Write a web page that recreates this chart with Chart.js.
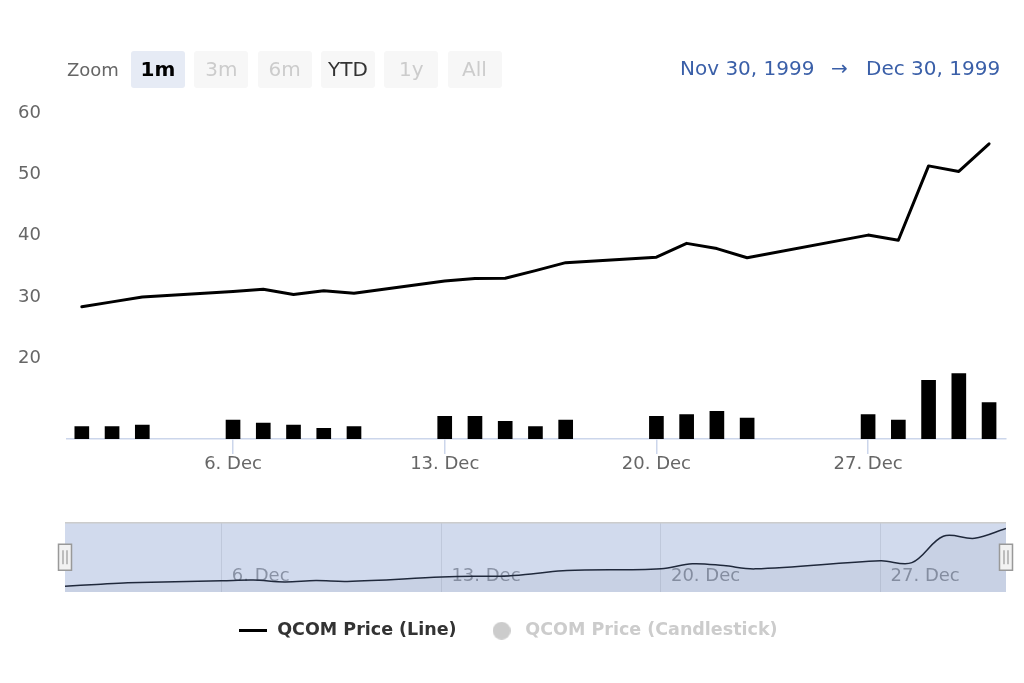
<!DOCTYPE html>
<html><head><meta charset="utf-8">
<script src="https://cdn.jsdelivr.net/npm/chart.js@4/dist/chart.umd.min.js"></script>
<style>
html,body{margin:0;padding:0;background:#fff;overflow:hidden;width:1024px;height:683px;font-family:'DejaVu Sans',sans-serif;}
#main{position:absolute;left:0;top:0;}
#nav{position:absolute;left:0;top:500px;}
.rs{position:absolute;top:51px;height:37px;line-height:37px;}
.lbl{left:67px;color:#666;font-size:18px;}
.btn{width:54px;text-align:center;border-radius:3px;background:#f7f7f7;color:#cccccc;font-size:20px;}
.btn.sel{background:#e6ebf5;color:#000;font-weight:bold;}
.btn.on{color:#333;}
.dt{position:absolute;top:56px;font-size:20px;line-height:24px;color:#3a5fa8;white-space:nowrap;}
</style></head>
<body>
<canvas id="main" width="1024" height="480"></canvas>
<canvas id="nav" width="1024" height="183"></canvas>
<script>
// ---- data ----
const dates = ['1999-12-01','1999-12-02','1999-12-03','1999-12-06','1999-12-07','1999-12-08','1999-12-09','1999-12-10',
  '1999-12-13','1999-12-14','1999-12-15','1999-12-16','1999-12-17','1999-12-20','1999-12-21','1999-12-22','1999-12-23',
  '1999-12-27','1999-12-28','1999-12-29','1999-12-30','1999-12-31'];
const price = [28.4, 29.2, 30.0, 30.9, 31.25, 30.4, 31.0, 30.6, 32.6, 33.0, 33.05, 34.3, 35.6, 36.5, 38.75, 37.9, 36.4,
  40.1, 39.25, 51.4, 50.5, 55.0];
const volume = [7.4, 7.4, 8.4, 11.4, 9.6, 8.4, 6.4, 7.4, 13.6, 13.6, 10.6, 7.4, 11.4, 13.6, 14.6, 16.6, 12.6,
  14.6, 11.4, 35.2, 39.2, 21.8];
const xTickDays = [6, 13, 20, 27];
const xTickLabels = ['6. Dec', '13. Dec', '20. Dec', '27. Dec'];
const priceTicks = [20, 30, 40, 50, 60];
const seriesNames = ['QCOM Price (Line)', 'QCOM Price (Candlestick)'];
const rangeButtons = ['1m', '3m', '6m', 'YTD', '1y', 'All'];
const rangeSelected = '1m';
const rangeEnabled = ['1m', 'YTD'];
const rangeFrom = 'Nov 30, 1999';
const rangeTo = 'Dec 30, 1999';

// ---- range selector (HTML) ----
(function(){
  const z = document.createElement('div'); z.className = 'rs lbl'; z.textContent = 'Zoom'; document.body.appendChild(z);
  rangeButtons.forEach((t, i) => {
    const b = document.createElement('div');
    b.className = 'rs btn' + (t === rangeSelected ? ' sel' : (rangeEnabled.includes(t) ? ' on' : ''));
    b.style.left = (131 + i * 63.3) + 'px';
    b.textContent = t; document.body.appendChild(b);
  });
  const a = document.createElement('div'); a.className = 'dt'; a.style.left = '680px'; a.textContent = rangeFrom; document.body.appendChild(a);
  const ar = document.createElement('div'); ar.className = 'dt'; ar.style.left = '831px'; ar.textContent = '\u2192'; document.body.appendChild(ar);
  const b2 = document.createElement('div'); b2.className = 'dt'; b2.style.left = '866px'; b2.textContent = rangeTo; document.body.appendChild(b2);
})();

Chart.defaults.font.family = "'DejaVu Sans', sans-serif";
const days = dates.map(d => parseInt(d.slice(8, 10), 10));
const linePts = days.map((d, i) => ({x: d, y: price[i]}));
const volPts = days.map((d, i) => ({x: d, y: volume[i]}));
const tickLabel = v => { const k = xTickDays.indexOf(v); return k >= 0 ? xTickLabels[k] : ''; };

new Chart(document.getElementById('main'), {
  data: {datasets: [
    {type: 'line', label: seriesNames[0], data: linePts, yAxisID: 'y', borderColor: '#000', borderWidth: 3,
     pointRadius: 0, tension: 0, fill: false, borderJoinStyle: 'round', borderCapStyle: 'round'},
    {type: 'bar', label: 'Volume', data: volPts, yAxisID: 'yv', backgroundColor: '#000', barThickness: 14}
  ]},
  options: {
    responsive: false, animation: false, devicePixelRatio: 1,
    layout: {padding: {top: 97.6, left: 18, right: 18, bottom: 0}},
    plugins: {legend: {display: false}, tooltip: {enabled: false}},
    scales: {
      x: {type: 'linear', min: 0.5, max: 31.56, position: 'bottom', offset: false,
        afterBuildTicks: s => { s.ticks = xTickDays.map(v => ({value: v})); },
        afterFit: s => { s.height = 41; },
        ticks: {callback: tickLabel, color: '#666', font: {size: 18}, padding: 0, maxRotation: 0, autoSkip: false},
        grid: {offset: false, drawOnChartArea: false, drawTicks: true, tickLength: 15, color: '#ccd6eb', tickColor: '#ccd6eb', lineWidth: 1.5},
        border: {display: true, color: '#ccd6eb', width: 1.5}},
      y: {type: 'linear', position: 'left', min: 6.81, max: 62.55,
        afterBuildTicks: s => { s.ticks = priceTicks.map(v => ({value: v})); },
        afterFit: s => { s.width = 48.7; },
        ticks: {color: '#666', font: {size: 18}, crossAlign: 'far', padding: 0},
        grid: {display: false}, border: {display: false}},
      yv: {type: 'linear', display: false, min: 0, max: 204.8}
    }
  }
});

// ---- navigator ----
const mkLine = () => { const c = document.createElement('canvas'); c.width = 28; c.height = 3; const g = c.getContext('2d'); g.fillStyle = '#000'; g.fillRect(0, 0, 28, 3); return c; };
const mkDot = () => { const c = document.createElement('canvas'); c.width = 18; c.height = 18; const g = c.getContext('2d'); g.fillStyle = '#cccccc'; g.beginPath(); g.arc(9, 9, 9, 0, Math.PI * 2); g.fill(); return c; };
const navDecor = {
  id: 'navDecor',
  afterDatasetsDraw(chart) {
    const {ctx, chartArea: a} = chart;
    ctx.save();
    ctx.fillStyle = 'rgba(102,133,194,0.3)';
    ctx.fillRect(a.left, a.top, a.right - a.left, a.bottom - a.top);
    ctx.strokeStyle = '#cccccc'; ctx.lineWidth = 1.5;
    ctx.beginPath(); ctx.moveTo(a.left, a.top); ctx.lineTo(a.right, a.top); ctx.stroke();
    const cy = (a.top + a.bottom) / 2;
    [a.left, a.right].forEach(x => {
      ctx.fillStyle = '#f2f2f2'; ctx.strokeStyle = '#999999'; ctx.lineWidth = 1.5;
      ctx.beginPath(); ctx.rect(x - 6.5, cy - 13, 13, 26); ctx.fill(); ctx.stroke();
      ctx.lineWidth = 1.2;
      ctx.beginPath(); ctx.moveTo(x - 2, cy - 7); ctx.lineTo(x - 2, cy + 7); ctx.moveTo(x + 2, cy - 7); ctx.lineTo(x + 2, cy + 7); ctx.stroke();
    });
    ctx.restore();
  }
};
const pMin = Math.min(...price), pMax = Math.max(...price), pPad = (pMax - pMin) * 0.1;
new Chart(document.getElementById('nav'), {
  type: 'line',
  data: {datasets: [{label: seriesNames[0], data: linePts, borderColor: '#000', borderWidth: 1.5, pointRadius: 0,
    tension: 0.35, fill: 'start', backgroundColor: 'rgba(0,0,0,0.05)'}]},
  options: {
    responsive: false, animation: false, devicePixelRatio: 1,
    layout: {padding: {top: 22.7, left: 10, right: 18, bottom: 33.5}},
    plugins: {
      tooltip: {enabled: false},
      legend: {display: true, position: 'bottom', onClick: null,
        labels: {usePointStyle: true, pointStyleWidth: 30, boxHeight: 13, padding: 30,
          font: {size: 17.5, weight: 'bold'}, color: '#333',
          generateLabels: () => [
            {text: seriesNames[0], pointStyle: mkLine(), fontColor: '#333333', hidden: false, lineWidth: 0, strokeStyle: 'rgba(0,0,0,0)', fillStyle: '#000'},
            {text: seriesNames[1], pointStyle: mkDot(), fontColor: '#cccccc', hidden: false, lineWidth: 0, strokeStyle: 'rgba(0,0,0,0)', fillStyle: '#ccc'}
          ]}}
    },
    scales: {
      x: {type: 'linear', min: days[0], max: days[days.length - 1], offset: false,
        afterBuildTicks: s => { s.ticks = xTickDays.map(v => ({value: v})); },
        afterFit: s => { s.height = 0; },
        ticks: {callback: tickLabel, align: 'start', labelOffset: 10, padding: 4.7, mirror: true, color: '#999', font: {size: 18}, maxRotation: 0, autoSkip: false},
        grid: {display: true, drawOnChartArea: true, drawTicks: false, color: '#e6e6e6', lineWidth: 1},
        border: {display: false}},
      y: {type: 'linear', min: pMin - pPad, max: pMax + pPad,
        afterFit: s => { s.width = 55; },
        ticks: {display: false}, grid: {display: false}, border: {display: false}}
    }
  },
  plugins: [navDecor]
});
</script>
</body></html>
